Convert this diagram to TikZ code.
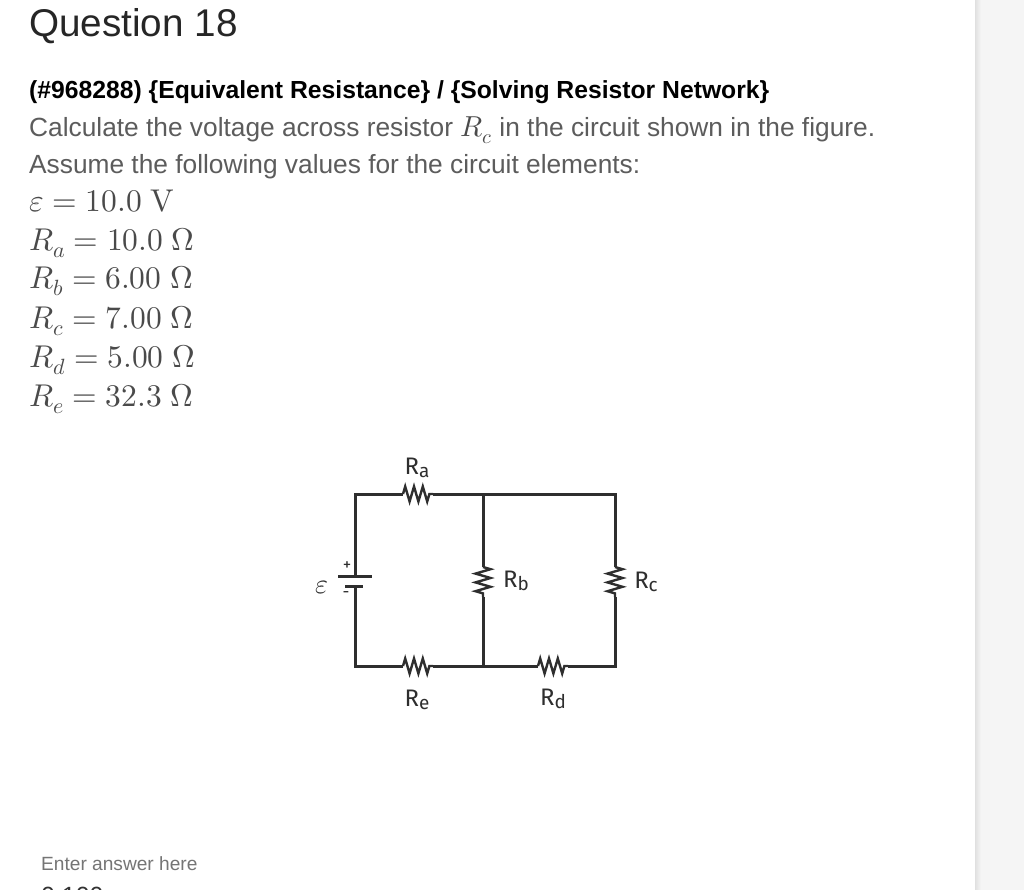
\documentclass[tikz,border=0pt]{standalone}
\usepackage{fontspec}
\usepackage{unicode-math}
\setmathfont{Latin Modern Math}
\setmainfont{Liberation Sans}
\newfontfamily\labelfont{Fira Sans}
\usetikzlibrary{decorations.pathmorphing}
\definecolor{bodygray}{HTML}{5C5C5C}
\definecolor{mathgray}{HTML}{4A4A4A}
\definecolor{hintgray}{HTML}{757575}
\definecolor{sidegray}{HTML}{F5F5F5}
\definecolor{wiregray}{HTML}{2E2E2E}
\newcommand{\rname}[1]{R\raisebox{-3bp}{\fontsize{19}{20}\selectfont #1}}
\tikzset{
  qtext/.style={anchor=base west,inner sep=0pt,text=bodygray,font=\fontsize{26.4}{30}\selectfont},
  qmath/.style={anchor=base west,inner sep=0pt,text=mathgray,font=\fontsize{31.6}{36}\selectfont},
  wire/.style={draw=wiregray,line width=3bp},
  rzig/.style={draw=wiregray,line width=2.4bp,decorate,decoration={zigzag,segment length=8.8bp,amplitude=7.5bp}},
  rlabel/.style={inner sep=0pt,text=wiregray,font=\labelfont\fontsize{24}{26}\selectfont},
  signlabel/.style={inner sep=0pt,text=wiregray,font=\labelfont\fontsize{17}{17}\selectfont}
}
\begin{document}
\begin{tikzpicture}[x=1bp,y=-1bp]
    \def\xl{355} \def\xm{483} \def\xr{615} % wires
    \def\yt{494} \def\yb{666}
    \useasboundingbox (0,0) rectangle (1024,890);
    \fill[white] (0,0) rectangle (975,890);
    \fill[sidegray] (975,0) rectangle (1024,890);
    \shade[left color=black!12,right color=sidegray] (975,0) rectangle (981,890);
    % text
    \node[anchor=base west,inner sep=0pt,text=black!85,font=\fontsize{38.8}{42}\selectfont] (title) at (29,36) {Question 18};
    \node[anchor=base west,inner sep=0pt,text=black,font=\bfseries\fontsize{24.8}{30}\selectfont] (head) at (29,98) {(\#968288) \{Equivalent Resistance\} / \{Solving Resistor Network\}};
    \node[qtext] (line1) at (29,136) {Calculate the voltage across resistor \fontsize{29}{36}\selectfont\textcolor{mathgray}{$R_c$}\fontsize{26.4}{30}\selectfont{} in the circuit shown in the figure.};
    \node[qtext] (line2) at (29,173) {Assume the following values for the circuit elements:};
    \node[qmath] (emf) at (29,211) {$\varepsilon = 10.0~\symup{V}$};
    \node[qmath] (vala) at (29,250) {$R_a = 10.0~\Omega$};
    \node[qmath] (valb) at (29,288) {$R_b = 6.00~\Omega$};
    \node[qmath] (valc) at (29,328) {$R_c = 7.00~\Omega$};
    \node[qmath] (vald) at (29,367) {$R_d = 5.00~\Omega$};
    \node[qmath] (vale) at (29,406) {$R_e = 32.3~\Omega$};
    \node[anchor=base west,inner sep=0pt,text=hintgray,font=\fontsize{19.2}{22}\selectfont] (hint) at (41,870) {Enter answer here};
    \begin{scope}
        \clip (0,860) rectangle (975,890);
        \node[anchor=base west,inner sep=0pt,text=black!80,font=\fontsize{25}{30}\selectfont] (answer) at (41,904) {0.100};
    \end{scope}
    % circuit
    \coordinate (tl) at (\xl,\yt);
    \coordinate (tm) at (\xm,\yt);
    \coordinate (tr) at (\xr,\yt);
    \coordinate (bl) at (\xl,\yb);
    \coordinate (bm) at (\xm,\yb);
    \coordinate (br) at (\xr,\yb);
    \coordinate (plus) at (\xl,576);
    \coordinate (minus) at (\xl,586);
    \coordinate (ra1) at (403,\yt); \coordinate (ra2) at (433,\yt);
    \coordinate (re1) at (403,\yb); \coordinate (re2) at (433,\yb);
    \coordinate (rd1) at (538,\yb); \coordinate (rd2) at (568,\yb);
    \coordinate (rb1) at (\xm,567); \coordinate (rb2) at (\xm,597);
    \coordinate (rc1) at (\xr,567); \coordinate (rc2) at (\xr,597);
    \coordinate (long1) at (338,576); \coordinate (long2) at (372,576);
    \coordinate (short1) at (345,586); \coordinate (short2) at (363,586);
    \draw[wire] (plus)--(tl)--(ra1);
    \draw[wire] (ra2)--(tm)--(tr)--(rc1);
    \draw[wire] (rc2)--(br)--(rd2);
    \draw[wire] (rd1)--(bm)--(re2);
    \draw[wire] (re1)--(bl)--(minus);
    \draw[wire] (tm)--(rb1);
    \draw[wire] (rb2)--(bm);
    \draw[rzig] (ra1)--(ra2);
    \draw[rzig] (re1)--(re2);
    \draw[rzig] (rd1)--(rd2);
    \draw[rzig] (rb1)--(rb2);
    \draw[rzig] (rc1)--(rc2);
    \draw[wire] (long1)--(long2);
    \draw[wire] (short1)--(short2);
    \node[signlabel] (plussign) at (347,566) {+};
    \node[signlabel] (minussign) at (346,595) {-};
    \node[inner sep=0pt,text=wiregray,font=\fontsize{28}{30}\selectfont] (emflabel) at (322,587) {$\varepsilon$};
    \node[rlabel] (lra) at (417,468) {\rname{a}};
    \node[rlabel] (lre) at (417,700) {\rname{e}};
    \node[rlabel] (lrd) at (553,699) {\rname{d}};
    \node[rlabel] (lrb) at (516,581) {\rname{b}};
    \node[rlabel] (lrc) at (646,582) {\rname{c}};
\end{tikzpicture}
\end{document}
